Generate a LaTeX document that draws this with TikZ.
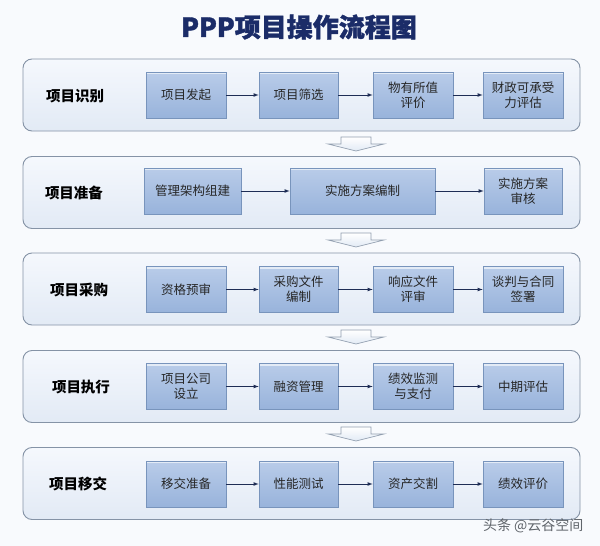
\documentclass[tikz,border=0pt]{standalone}
\usepackage{fontspec}
\setmainfont{Noto Sans CJK SC}
\newfontfamily\titlefont{Noto Sans CJK SC}[BoldFeatures={FakeBold=1.5}]
\usepackage{tikz}

\definecolor{pagebg}{HTML}{F8FAFD}
\definecolor{titlecol}{HTML}{1B2C68}
\definecolor{bandline}{HTML}{8593A6}
\definecolor{bandtop}{HTML}{F5F8FD}
\definecolor{bandbottom}{HTML}{E2EAF5}
\definecolor{boxline}{HTML}{7894BC}
\definecolor{boxtop}{HTML}{B9CCE9}
\definecolor{boxbottom}{HTML}{98B3DB}
\definecolor{flowcol}{HTML}{1E2D55}
\definecolor{markcol}{HTML}{60656B}

\begin{document}
\begin{tikzpicture}[x=1pt,y=-1pt,
    stage/.style={draw=bandline,line width=0.9pt,rounded corners=9pt,
        top color=bandtop,bottom color=bandbottom,
        minimum width=557pt,minimum height=72pt,inner sep=0pt},
    stage label/.style={font=\fontsize{14.5}{17}\selectfont\bfseries},
    task/.style={draw=boxline,line width=0.6pt,top color=boxtop,bottom color=boxbottom,
        minimum height=46pt,inner sep=0pt,align=center,
        font=\fontsize{12.5}{15}\selectfont,text=black!85,
        path picture={\draw[white!60!boxtop,line width=1.4pt]
            ([yshift=-1.3pt]path picture bounding box.north west) --
            ([yshift=-1.3pt]path picture bounding box.north east);}},
    flow/.style={-latex,draw=flowcol,line width=0.8pt},
    down arrow/.style={draw=bandline!90,line width=0.7pt,top color=white,bottom color=bandbottom}
]
    \useasboundingbox[fill=pagebg] (0,0) rectangle (600,546);

    \node[font=\titlefont\fontsize{26}{30}\selectfont\bfseries,text=titlecol] (title) at (299,27) {PPP项目操作流程图};

    % stages
    \node[stage] (s1) at (301.5,95) {};
    \node[stage] (s2) at (301.5,192.5) {};
    \node[stage] (s3) at (301.5,289) {};
    \node[stage] (s4) at (301.5,386.5) {};
    \node[stage] (s5) at (301.5,483.5) {};

    \foreach \y in {137,233,330,427}
        \draw[down arrow] (341,\y) -- ++(30,0) -- ++(0,7) -- ++(13,0) -- (356,{\y+14})
            -- (328,{\y+7}) -- ++(13,0) -- cycle;

    \node[stage label] (l1) at (75,96) {项目识别};
    \node[stage label] (l2) at (74,193) {项目准备};
    \node[stage label] (l3) at (79,290) {项目采购};
    \node[stage label] (l4) at (81,387) {项目执行};
    \node[stage label] (l5) at (78,484) {项目移交};

    % 项目识别
    \node[task,minimum width=80pt] (a1) at (186,95) {项目发起};
    \node[task,minimum width=79pt] (a2) at (298.5,95) {项目筛选};
    \node[task,minimum width=80pt] (a3) at (413,95) {物有所值\\评价};
    \node[task,minimum width=80pt] (a4) at (523,95) {财政可承受\\力评估};
    \draw[flow] (a1) -- (a2);
    \draw[flow] (a2) -- (a3);
    \draw[flow] (a3) -- (a4);

    % 项目准备
    \node[task,minimum width=97pt] (b1) at (192.5,191) {管理架构组建};
    \node[task,minimum width=145pt] (b2) at (362.5,191) {实施方案编制};
    \node[task,minimum width=78pt] (b3) at (523,191) {实施方案\\审核};
    \draw[flow] (b1) -- (b2);
    \draw[flow] (b2) -- (b3);

    % 项目采购
    \node[task,minimum width=80pt] (c1) at (186,289.5) {资格预审};
    \node[task,minimum width=79pt] (c2) at (298.5,289.5) {采购文件\\编制};
    \node[task,minimum width=80pt] (c3) at (413,289.5) {响应文件\\评审};
    \node[task,minimum width=80pt] (c4) at (523,289.5) {谈判与合同\\签署};
    \draw[flow] (c1) -- (c2);
    \draw[flow] (c2) -- (c3);
    \draw[flow] (c3) -- (c4);

    % 项目执行
    \node[task,minimum width=80pt] (d1) at (186,386.5) {项目公司\\设立};
    \node[task,minimum width=79pt] (d2) at (298.5,386.5) {融资管理};
    \node[task,minimum width=80pt] (d3) at (413,386.5) {绩效监测\\与支付};
    \node[task,minimum width=80pt] (d4) at (523,386.5) {中期评估};
    \draw[flow] (d1) -- (d2);
    \draw[flow] (d2) -- (d3);
    \draw[flow] (d3) -- (d4);

    % 项目移交
    \node[task,minimum width=80pt] (e1) at (186,484) {移交准备};
    \node[task,minimum width=79pt] (e2) at (298.5,484) {性能测试};
    \node[task,minimum width=80pt] (e3) at (413,484) {资产交割};
    \node[task,minimum width=80pt] (e4) at (523,484) {绩效评价};
    \draw[flow] (e1) -- (e2);
    \draw[flow] (e2) -- (e3);
    \draw[flow] (e3) -- (e4);

    \node[font=\fontsize{14}{16}\selectfont,text=markcol,anchor=east] (mark) at (587,526) {头条 @云谷空间};
\end{tikzpicture}
\end{document}
